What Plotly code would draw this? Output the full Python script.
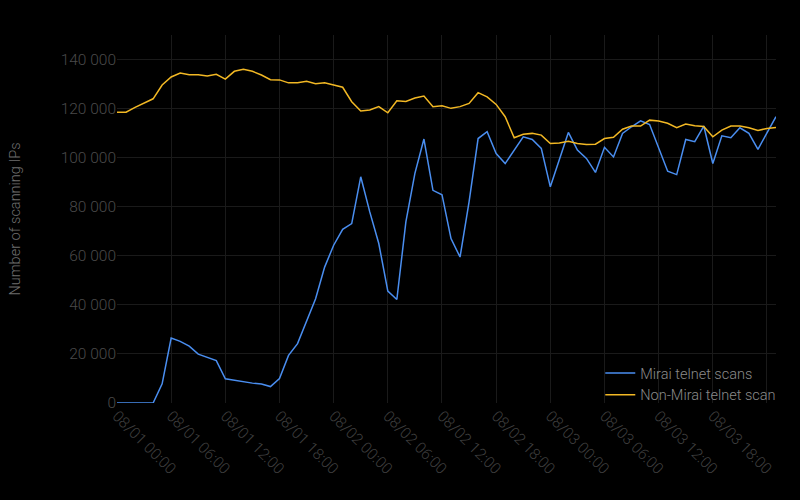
import plotly.graph_objects as go
import pandas as pd

start = "2016-08-01 00:00"
n_hours = 74
times = pd.date_range(start, periods=n_hours, freq="h")

mirai = [0, 0, 0, 0, 0, 7800, 26500, 25100, 23200, 19900,
         18600, 17300, 9900, 9200, 8600, 8100, 7700, 6700, 10000, 19400,
         24200, 33000, 42500, 55400, 64300, 70800, 73100, 92200, 77900, 65000,
         45600, 42200, 73800, 93600, 107600, 86700, 84900, 67000, 59500, 82000,
         107800, 110600, 101700, 97600, 103100, 108500, 107400, 103800, 88100, 99000,
         110300, 103100, 99700, 94000, 104200, 100300, 109900, 112600, 115000, 113500,
         103800, 94500, 93100, 107400, 106500, 112900, 97600, 108900, 108100, 112200,
         109900, 103400, 110100, 116700]

non_mirai = [118500, 118500, 120500, 122250, 124000, 129600, 132900, 134500, 133800, 133800,
             133300, 134000, 132000, 135200, 136000, 135200, 133700, 131800, 131700, 130500,
             130500, 131100, 130100, 130500, 129600, 128700, 122800, 119000, 119400, 120800,
             118300, 123200, 122900, 124300, 125100, 120800, 121200, 120100, 120800, 122100,
             126500, 124800, 121700, 116700, 108100, 109500, 109900, 109200, 105800, 106000,
             106700, 105800, 105400, 105500, 107800, 108300, 111600, 112900, 112900, 115300,
             114900, 114000, 112200, 113700, 113000, 112700, 108500, 111200, 112900, 112900,
             112200, 111100, 111900, 112300]

series_names = ["Mirai telnet scans", "Non-Mirai telnet scan"]
series_colors = ["#4a8ef0", "#f2b824"]

fig = go.Figure()
for name, vals, col in zip(series_names, [mirai, non_mirai], series_colors):
    fig.add_trace(go.Scatter(x=times, y=vals, mode="lines", name=name,
                             line=dict(color=col, width=1.5)))

fig.update_layout(
    width=800, height=500,
    paper_bgcolor="black", plot_bgcolor="black",
    margin=dict(l=117, r=24, t=35, b=97),
    font=dict(family="Roboto", color="#4a4a4a", size=15.5, weight=300),
    separators=". ",
    showlegend=True,
    legend=dict(x=1.008, y=0.125, xanchor="right", yanchor="top",
                bgcolor="rgba(0,0,0,0)",
                font=dict(color="#8a8a8a", size=14.5, weight=300),
                tracegroupgap=0),
    xaxis=dict(
        type="date",
        range=[times[0], times[-1]],
        tick0=start, dtick=6 * 3600 * 1000,
        tickformat="%m/%d %H:%M",
        tickangle=45,
        automargin=False,
        showgrid=True, gridcolor="#1a1a1a", gridwidth=1,
        zeroline=False, showline=False, ticks="",
        tickfont=dict(color="#3e3e3e", size=15.5, weight=300),
    ),
    yaxis=dict(
        range=[0, 150000], dtick=20000, tick0=0,
        tickformat=",d",
        automargin=False,
        showgrid=True, gridcolor="#1a1a1a", gridwidth=1,
        zeroline=False, showline=False, ticks="",
        tickfont=dict(color="#4a4a4a", size=15.5, weight=300),
        title=dict(text="Number of scanning IPs",
                   font=dict(color="#6e6e6e", size=14.5, weight=300), standoff=36),
    ),
)

fig.write_html("out.html")
